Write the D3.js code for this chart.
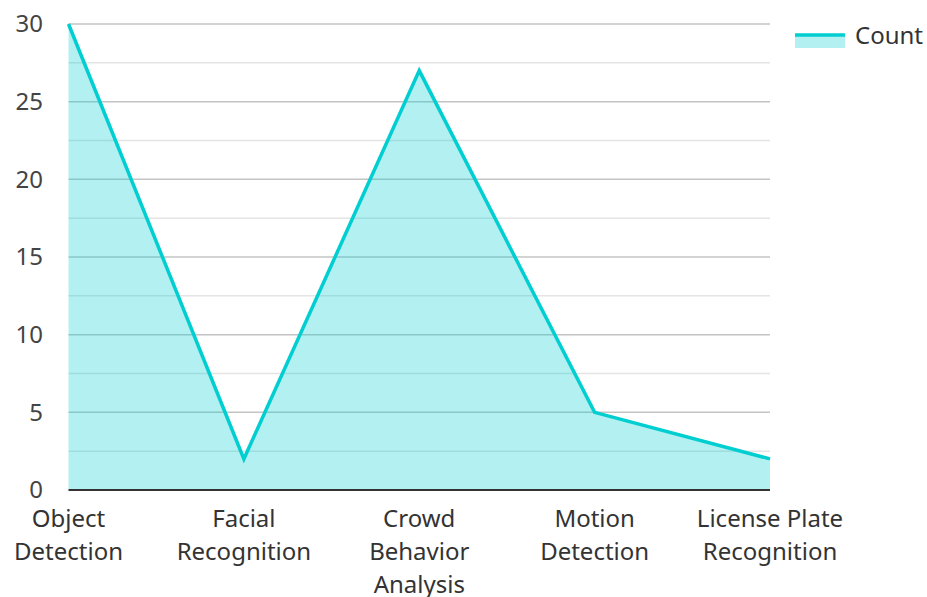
<!DOCTYPE html>
<html>
<head>
<meta charset="utf-8">
<script src="https://cdn.jsdelivr.net/npm/d3@7"></script>
<style>
  html, body { margin: 0; padding: 0; background: #fff; }
  svg { display: block; font-family: "Noto Sans", "Open Sans", sans-serif; }
</style>
</head>
<body>
<svg id="chart" width="927" height="597"></svg>
<script>
// Detection capabilities and how often each appears
const categories = [
  ["Object", "Detection"],
  ["Facial", "Recognition"],
  ["Crowd", "Behavior", "Analysis"],
  ["Motion", "Detection"],
  ["License Plate", "Recognition"]
];
const counts = [30, 2, 27, 5, 2];
const seriesName = "Count";
const yTicks = [0, 5, 10, 15, 20, 25, 30];
const yMinorTicks = [2.5, 7.5, 12.5, 17.5, 22.5, 27.5];

const lineColor = "#00CED1";
const fillColor = "rgba(0, 206, 209, 0.3)";

const svg = d3.select("#chart");
const margin = { left: 68.5, right: 157, top: 24, bottom: 107 };
const W = 927, H = 597;
const fontSize = 24;

const x = d3.scalePoint()
  .domain(d3.range(categories.length))
  .range([margin.left, W - margin.right]);
const y = d3.scaleLinear()
  .domain([0, 30])
  .range([H - margin.bottom, margin.top]);

// gridlines
const grid = svg.append("g");
grid.selectAll("line.minor").data(yMinorTicks).join("line")
  .attr("class", "minor")
  .attr("x1", x.range()[0]).attr("x2", x.range()[1])
  .attr("y1", d => y(d)).attr("y2", d => y(d))
  .attr("stroke", "#e4e4e4").attr("stroke-width", 1.5);
grid.selectAll("line.major").data(yTicks.filter(d => d > 0)).join("line")
  .attr("class", "major")
  .attr("x1", x.range()[0]).attr("x2", x.range()[1])
  .attr("y1", d => y(d)).attr("y2", d => y(d))
  .attr("stroke", "#c4c4c4").attr("stroke-width", 1.5);

// area and line
const idx = d3.range(counts.length);
svg.append("path")
  .datum(idx)
  .attr("fill", fillColor)
  .attr("d", d3.area().x(i => x(i)).y0(y(0)).y1(i => y(counts[i])));
svg.append("path")
  .datum(idx)
  .attr("fill", "none")
  .attr("stroke", lineColor)
  .attr("stroke-width", 3.5)
  .attr("stroke-linejoin", "miter")
  .attr("d", d3.line().x(i => x(i)).y(i => y(counts[i])));

// baseline
svg.append("line")
  .attr("x1", x.range()[0]).attr("x2", x.range()[1])
  .attr("y1", y(0)).attr("y2", y(0))
  .attr("stroke", "#333").attr("stroke-width", 2);

// y axis labels
const yAxis = d3.axisLeft(y).tickValues(yTicks).tickSize(0).tickPadding(0).tickFormat(d3.format("d"));
const yg = svg.append("g").attr("transform", `translate(${43},0)`).call(yAxis);
yg.select(".domain").remove();
yg.selectAll("text")
  .attr("font-size", fontSize)
  .attr("font-family", "Noto Sans, sans-serif")
  .attr("fill", "#444");

// x axis labels (multi-line)
const xg = svg.append("g");
categories.forEach((lines, i) => {
  const t = xg.append("text")
    .attr("text-anchor", "middle")
    .attr("font-size", fontSize)
    .attr("fill", "#333");
  lines.forEach((ln, k) => {
    t.append("tspan")
      .attr("x", x(i))
      .attr("y", 527 + k * 33)
      .text(ln);
  });
});

// legend
const lg = svg.append("g");
lg.append("rect").attr("x", 795).attr("y", 34).attr("width", 50).attr("height", 14)
  .attr("fill", fillColor);
lg.append("line").attr("x1", 795).attr("x2", 845).attr("y1", 35).attr("y2", 35)
  .attr("stroke", lineColor).attr("stroke-width", 3.5);
lg.append("text").attr("x", 855).attr("y", 44).attr("font-size", fontSize).attr("fill", "#333")
  .text(seriesName);
</script>
</body>
</html>
